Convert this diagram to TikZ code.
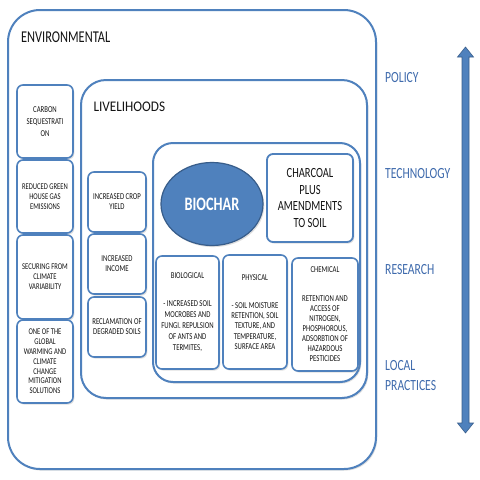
\documentclass[tikz,border=0pt]{standalone}
\usepackage{fontspec}
\setmainfont{Carlito}[FakeStretch=0.75]
\newfontfamily\livfont{Carlito}[FakeStretch=0.9]
\usetikzlibrary{shadows,shapes.geometric}
\definecolor{boxblue}{RGB}{79,129,189}
\definecolor{labblue}{RGB}{62,106,172}
\definecolor{darkblue}{RGB}{56,93,138}
\definecolor{txt}{RGB}{20,20,20}
\tikzset{
  frame/.style={draw=boxblue, line width=2pt, fill=white, rounded corners=#1,
    drop shadow={opacity=0.25, shadow xshift=1.3pt, shadow yshift=-1.6pt}},
  bigframe/.style={frame=#1, inner sep=0pt},
  sbox/.style={frame=6pt, line width=1.6pt, inner sep=0pt, align=center, text=txt,
    font=\fontsize{9}{10}\selectfont},
  sidelab/.style={anchor=west, inner sep=0pt, text=labblue, font=\fontsize{15.5}{19.3}\selectfont},
  title/.style={anchor=west, inner sep=0pt, text=txt},
}
\begin{document}
\begin{tikzpicture}[x=1pt,y=-1pt]
\useasboundingbox (0,0) rectangle (480,480);
% containers
\node[bigframe=32pt, minimum width=368pt, minimum height=459pt] (env) at (192,239.5) {};
\node[title, font=\fontsize{16.5}{18}\selectfont] (envlab) at (21,37) {ENVIRONMENTAL};
\node[bigframe=25pt, minimum width=286pt, minimum height=318pt] (liv) at (224,239) {};
\node[title, font=\livfont\fontsize{14.7}{16}\selectfont] (livlab) at (93.3,107) {LIVELIHOODS};
\node[bigframe=20pt, minimum width=207pt, minimum height=239pt] (core) at (256.5,262.5) {};
% environmental column
\node[sbox, minimum width=56pt, minimum height=73pt, font=\fontsize{9}{12}\selectfont] (carbon) at (45,121.5) {CARBON\\SEQUESTRATI\\ON};
\node[sbox, minimum width=56pt, minimum height=73pt, font=\fontsize{8.8}{9.8}\selectfont] (reduced) at (45,196.5) {REDUCED GREEN\\HOUSE GAS\\EMISSIONS};
\node[sbox, minimum width=56pt, minimum height=84pt, font=\fontsize{8.8}{10}\selectfont] (securing) at (45,277) {SECURING FROM\\CLIMATE\\VARIABILITY};
\node[sbox, minimum width=56pt, minimum height=83pt, font=\fontsize{8.8}{9.8}\selectfont] (oneof) at (45,361.5) {ONE OF THE\\GLOBAL\\WARMING AND\\CLIMATE\\CHANGE\\MITIGATION\\SOLUTIONS};
% livelihoods column
\node[sbox, minimum width=58pt, minimum height=60pt] (crop) at (117,202) {INCREASED CROP\\YIELD};
\node[sbox, minimum width=58pt, minimum height=60pt] (income) at (117,264) {INCREASED\\INCOME};
\node[sbox, minimum width=58pt, minimum height=60pt] (reclam) at (117,327) {RECLAMATION OF\\DEGRADED SOILS};
% core
\node[ellipse, draw=darkblue, line width=1.2pt, fill=boxblue, minimum width=102pt, minimum height=83pt, inner sep=0pt,
  text=white, font=\bfseries\fontsize{19}{22}\selectfont,
  drop shadow={opacity=0.25, shadow xshift=1.3pt, shadow yshift=-1.6pt}] (biochar) at (212,204) {BIOCHAR};
\node[sbox, line width=1.8pt, minimum width=86pt, minimum height=88pt, font=\fontsize{14}{16.7}\selectfont] (charcoal) at (310,198) {CHARCOAL\\PLUS\\AMENDMENTS\\TO SOIL};
\node[sbox, minimum width=63pt, minimum height=113pt, font=\fontsize{9}{11}\selectfont] (bio) at (187.5,312.5)
  {BIOLOGICAL\\[17pt]- INCREASED SOIL\\MOCROBES AND\\FUNGI. REPULSION\\OF ANTS AND\\TERMITES,};
\node[sbox, minimum width=64pt, minimum height=114pt, font=\fontsize{9}{10.3}\selectfont] (phys) at (255,312)
  {PHYSICAL\\[17.7pt]- SOIL MOISTURE\\RETENTION, SOIL\\TEXTURE, AND\\TEMPERATURE,\\SURFACE AREA};
\node[sbox, minimum width=66pt, minimum height=113pt, font=\fontsize{9}{10}\selectfont] (chem) at (325,314.5)
  {CHEMICAL\\[19pt]RETENTION AND\\ACCESS OF\\NITROGEN,\\PHOSPHOROUS,\\ADSORBTION OF\\HAZARDOUS\\PESTICIDES};
% side labels
\node[sidelab] (policy) at (385,77.7) {POLICY};
\node[sidelab] (tech) at (385,173.8) {TECHNOLOGY};
\node[sidelab] (research) at (385,269.5) {RESEARCH};
\node[sidelab, align=left] (local) at (385,375.4) {LOCAL\\PRACTICES};
% double arrow
\draw[fill=boxblue, draw=darkblue, line width=0.6pt, line join=miter]
  (465.5,47) -- (473.5,57) -- (469,57) -- (469,423) -- (473.5,423) -- (465.5,433)
  -- (457.5,423) -- (462,423) -- (462,57) -- (457.5,57) -- cycle;
\end{tikzpicture}
\end{document}
